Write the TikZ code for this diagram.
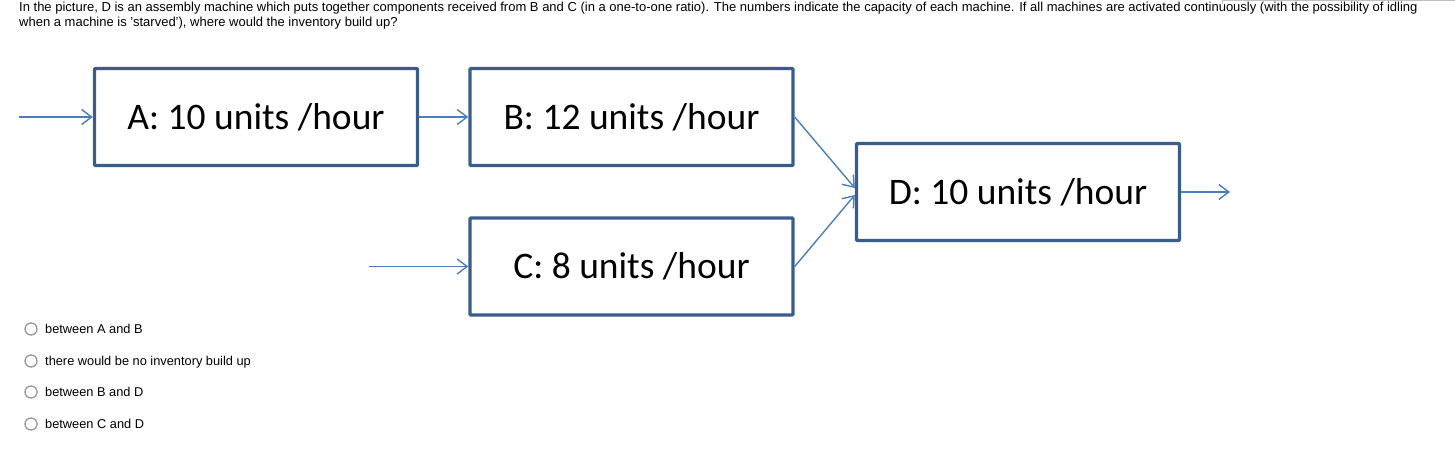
\documentclass[tikz,border=0pt]{standalone}
\usepackage{fontspec}
\setmainfont{Liberation Sans}
\newfontfamily\boxfont{Carlito}
\usetikzlibrary{arrows.meta}
\definecolor{boxblue}{HTML}{385D8A}
\definecolor{arrblue}{HTML}{4A7EBB}
\begin{document}
\begin{tikzpicture}[x=1pt,y=-1pt,
  machine/.style={draw=boxblue, line width=3.4pt, rectangle, rounded corners=1pt,
    minimum width=323pt, minimum height=97pt, inner sep=0pt, fill=white,
    font=\boxfont\fontsize{37.5}{44}\selectfont},
  flow/.style={draw=arrblue, line width=1.4pt, -{Straight Barb[length=10pt,width=15pt]}},
  qtext/.style={anchor=base west, inner sep=0pt, font=\fontsize{13}{15}\selectfont},
  otext/.style={anchor=base west, inner sep=0pt, font=\fontsize{12.8}{15}\selectfont},
  radio/.style={circle, draw=gray!80, line width=1.3pt, minimum size=12pt, inner sep=0pt, fill=white}]
\useasboundingbox (0,0) rectangle (1455,449);
\draw[gray!50, line width=1pt] (1222,4) -- (1222,1) -- (1455,1);
% question
\node[qtext] (q1) at (19,12) {In the picture, D is an assembly machine which puts together components received from B and C (in a one-to-one ratio). The numbers indicate the capacity of each machine. If all machines are activated continuously (with the possibility of idling};
\node[qtext] (q2) at (19,27) {when a machine is 'starved'), where would the inventory build up?};
% machines
\node[machine] (A) at (256,117) {A: 10 units /hour};
\node[machine] (B) at (631.5,117) {B: 12 units /hour};
\node[machine] (C) at (631.5,266.5) {C: 8 units /hour};
\node[machine] (D) at (1018,192) {D: 10 units /hour};
\coordinate (inA) at (19,117);
\coordinate (inC) at (369,266.5);
\coordinate (outD) at (1230,192);
\draw[flow] (inA) -- (A.west);
\draw[flow] (A.east) -- (B.west);
\draw[flow] (inC) -- (C.west);
\draw[flow] (B.east) -- ([yshift=4pt]D.west);
\draw[flow] (C.east) -- ([yshift=-3pt]D.west);
\draw[flow] (D.east) -- (outD);
% options
\node[radio] (r1) at (31,329) {};
\node[radio] (r2) at (31,361) {};
\node[radio] (r3) at (31,392) {};
\node[radio] (r4) at (31,424) {};
\node[otext] (o1) at (45,333) {between A and B};
\node[otext] (o2) at (45,365) {there would be no inventory build up};
\node[otext] (o3) at (45,396) {between B and D};
\node[otext] (o4) at (45,428) {between C and D};
\end{tikzpicture}
\end{document}
